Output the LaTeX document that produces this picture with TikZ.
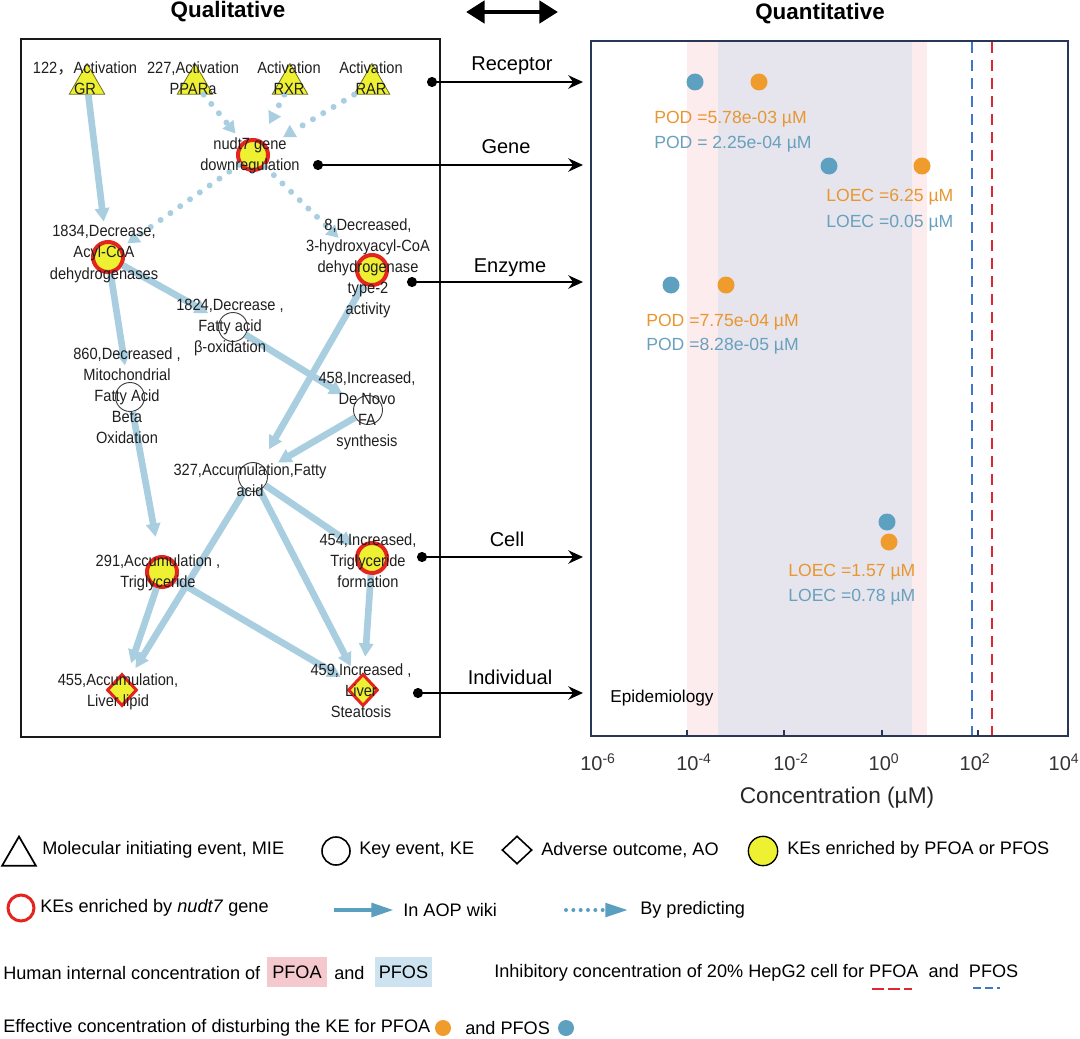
\documentclass[tikz,border=0pt]{standalone}
\usepackage{fontspec}
\setmainfont{Liberation Sans}
\newfontfamily\nodefont[FakeStretch=0.9]{Liberation Sans}
\newfontfamily\cjkfont{Noto Sans CJK SC}
\usetikzlibrary{arrows.meta,shapes.geometric}
\definecolor{aopyellow}{RGB}{238,240,50}
\definecolor{aopred}{RGB}{228,36,30}
\definecolor{edgeblue}{RGB}{168,206,224}
\definecolor{ptblue}{RGB}{94,160,192}
\definecolor{ptorange}{RGB}{239,156,45}
\definecolor{txtblue}{RGB}{104,160,190}
\definecolor{txtorange}{RGB}{232,150,48}
\definecolor{lineblue}{RGB}{60,120,200}
\definecolor{linered}{RGB}{220,40,50}
\definecolor{bandpink}{RGB}{252,236,238}
\definecolor{bandgray}{RGB}{230,229,237}
\definecolor{framenavy}{RGB}{40,55,85}
\definecolor{boxpink}{RGB}{245,200,206}
\definecolor{boxblue}{RGB}{205,227,240}
\definecolor{legblue}{RGB}{90,158,192}
\definecolor{olivebd}{RGB}{110,110,30}
\begin{document}
\begin{tikzpicture}[x=0.75pt,y=-0.75pt,
  mie/.style={regular polygon, regular polygon sides=3, minimum size=30.75pt, inner sep=0pt, fill=aopyellow, draw=olivebd, line width=0.6pt},
  kenr/.style={circle, minimum size=22.5pt, inner sep=0pt, fill=aopyellow, draw=aopred, line width=3pt},
  keplain/.style={circle, minimum size=21.75pt, inner sep=0pt, draw=black!75, line width=0.7pt},
  aonode/.style={diamond, minimum width=22.5pt, minimum height=24pt, inner sep=0pt, fill=aopyellow, draw=aopred, line width=2.25pt},
  lbl/.style={font=\nodefont\fontsize{12.2}{15.8}\selectfont, align=center, inner sep=0pt, text=black!88},
  wiki/.style={draw=edgeblue, line width=5pt, -{Triangle[length=10pt,width=10.5pt]}},
  pred/.style={draw=edgeblue, line width=4.5pt, line cap=round, dash pattern=on 0pt off 9pt, -{Triangle[length=9pt,width=10pt]}},
  conn/.style={line width=1.5pt, {Circle[length=7.5pt]}-{Stealth[length=11pt,width=10pt]}},
  lvl/.style={font=\fontsize{15}{17}\selectfont, inner sep=0pt},
  ptxt/.style={anchor=west, font=\fontsize{13.2}{15}\selectfont, inner sep=0pt},
  leg/.style={anchor=west, font=\fontsize{13.6}{16}\selectfont, inner sep=0pt},
  tick/.style={font=\fontsize{15}{17}\selectfont, inner sep=0pt, text=black!80}
]
\useasboundingbox (0,0) rectangle (1080,1038);

% ---- titles
\node[font=\bfseries\fontsize{16.8}{20}\selectfont, inner sep=0pt] (tql) at (228,12) {Qualitative};
\node[font=\bfseries\fontsize{16.8}{20}\selectfont, inner sep=0pt] (tqn) at (820,14) {Quantitative};
\coordinate (da1) at (466,12);
\coordinate (da2) at (558,12);
\draw[line width=3.5pt, {Triangle[length=14pt,width=16.5pt]}-{Triangle[length=14pt,width=16.5pt]}] (da1) -- (da2);

% ---- left frame
\draw[black!90, line width=2.2pt] (21,39) rectangle (440,737);

% ---- right plot
\fill[bandpink] (687,41) rectangle (927,736);
\fill[bandgray] (718,41) rectangle (912,736);
\draw[lineblue, line width=1.9pt, dash pattern=on 8pt off 5.5pt] (972,42) -- (972,735);
\draw[linered, line width=1.9pt, dash pattern=on 8pt off 5.5pt] (992,42) -- (992,735);
\draw[framenavy, line width=1.6pt] (591,41) rectangle (1068,736);
\foreach \x in {687,784,882,978} \draw[framenavy, line width=1pt] (\x,736) -- (\x,730);
\node[tick] (x1) at (598,762) {10\textsuperscript{-6}};
\node[tick] (x2) at (694,762) {10\textsuperscript{-4}};
\node[tick] (x3) at (791,762) {10\textsuperscript{-2}};
\node[tick] (x4) at (884,762) {10\textsuperscript{0}};
\node[tick] (x5) at (975,762) {10\textsuperscript{2}};
\node[tick] (x6) at (1064,762) {10\textsuperscript{4}};
\node[font=\fontsize{17}{19}\selectfont, inner sep=0pt, text=black!85] (xlab) at (837,798) {Concentration (µM)};

% data points
\fill[ptblue] (695,82) circle[radius=8.5];
\fill[ptorange] (759,82) circle[radius=8.5];
\fill[ptblue] (829,166) circle[radius=8.5];
\fill[ptorange] (922,166) circle[radius=8.5];
\fill[ptblue] (671,285) circle[radius=8.5];
\fill[ptorange] (726,285) circle[radius=8.5];
\fill[ptblue] (887,522) circle[radius=8.5];
\fill[ptorange] (889,542) circle[radius=8.5];

\node[ptxt, text=txtorange] (p1) at (654,119) {POD =5.78e-03 µM};
\node[ptxt, text=txtblue] (p2) at (654,144) {POD = 2.25e-04 µM};
\node[ptxt, text=txtorange] (p3) at (826,197) {LOEC =6.25 µM};
\node[ptxt, text=txtblue] (p4) at (826,223) {LOEC =0.05 µM};
\node[ptxt, text=txtorange] (p5) at (646,322) {POD =7.75e-04 µM};
\node[ptxt, text=txtblue] (p6) at (646,346) {POD =8.28e-05 µM};
\node[ptxt, text=txtorange] (p7) at (788,572) {LOEC =1.57 µM};
\node[ptxt, text=txtblue] (p8) at (788,597) {LOEC =0.78 µM};
\node[anchor=west, font=\fontsize{12.9}{15}\selectfont, inner sep=0pt] (epi) at (610,698) {Epidemiology};

% ---- left panel shapes
\node[mie] (GR) at (87,84) {};
\node[mie] (PPAR) at (195,84) {};
\node[mie] (RXR) at (290,84) {};
\node[mie] (RAR) at (372,84) {};
\node[kenr] (nudt) at (253,155) {};
\node[kenr] (k1834) at (108,257) {};
\node[kenr] (k8) at (372,270) {};
\node[keplain] (k1824) at (233,327) {};
\node[keplain] (k860) at (130,397) {};
\node[keplain] (k458) at (368,410) {};
\node[keplain] (k327) at (253,477) {};
\node[kenr] (k291) at (162,572) {};
\node[kenr] (k454) at (372,558) {};
\node[aonode] (k455) at (122,690) {};
\node[aonode] (k459) at (363,690) {};

% ---- edges in AOP wiki
\draw[wiki, shorten >=14pt] (GR) -- (k1834);
\draw[wiki, shorten >=12.75pt] (k1834) -- (k860);
\draw[wiki, shorten >=14pt] (k860) -- (k291);
\draw[wiki, shorten >=10pt] (k1834) -- (k1824);
\draw[wiki, shorten >=11pt] (k1824) -- (k458);
\draw[wiki, shorten >=12.75pt] (k8) -- (k327);
\draw[wiki, shorten >=10.5pt] (k458) -- (k327);
\draw[wiki, shorten >=4.5pt] (k327) -- (k454);
\draw[wiki, shorten >=10.5pt] (k327) -- (k459);
\draw[wiki, shorten >=10pt] (k327) -- (k455);
\draw[wiki, shorten >=11pt] (k291) -- (k455);
\draw[wiki, shorten >=10pt] (k291) -- (k459);
\draw[wiki, shorten >=12.75pt] (k454) -- (k459);

% ---- predicted edges
\draw[pred, shorten >=8pt] (PPAR) -- (nudt);
\draw[pred, shorten >=13.5pt] (RXR) -- (nudt);
\draw[pred, shorten >=13.5pt] (RAR) -- (nudt);
\draw[pred, shorten >=5pt] (nudt) -- (k1834);
\draw[pred, shorten >=22pt] (nudt) -- (k8);

% ---- labels
\node[lbl] (lGR) at (85,78) {122{\cjkfont ，}Activation\\GR};
\node[lbl] (lPPAR) at (193,78) {227,Activation\\PPARa};
\node[lbl] (lRXR) at (289,78) {Activation\\RXR};
\node[lbl] (lRAR) at (371,78) {Activation\\RAR};
\node[lbl] (lnudt) at (250,155.5) {nudt7 gene\\downregulation};
\node[lbl] (l1834) at (104,254) {1834,Decrease,\\Acyl-CoA\\dehydrogenases};
\node[lbl] (l8) at (368,268) {8,Decreased,\\3-hydroxyacyl-CoA\\dehydrogenase\\type-2\\activity};
\node[lbl] (l1824) at (230,327.5) {1824,Decrease ,\\Fatty acid\\β-oxidation};
\node[lbl] (l860) at (127,396) {860,Decreased ,\\Mitochondrial\\Fatty Acid\\Beta\\Oxidation};
\node[lbl] (l458) at (367,411) {458,Increased,\\De Novo\\FA\\synthesis};
\node[lbl] (l327) at (250,480.5) {327,Accumulation,Fatty\\acid};
\node[lbl] (l291) at (158,573) {291,Accumulation ,\\Triglyceride};
\node[lbl] (l454) at (368,561) {454,Increased,\\Triglyceride\\formation};
\node[lbl] (l455) at (118,692) {455,Accumulation,\\Liver lipid};
\node[lbl] (l459) at (361,691) {459,Increased ,\\Liver\\Steatosis};

% ---- level connectors
\coordinate (cR1) at (427,82);  \coordinate (cR2) at (583,82);
\coordinate (cG1) at (313,165); \coordinate (cG2) at (583,165);
\coordinate (cE1) at (407,282); \coordinate (cE2) at (583,282);
\coordinate (cC1) at (417,557); \coordinate (cC2) at (583,557);
\coordinate (cI1) at (413,693); \coordinate (cI2) at (583,693);
\draw[conn] (cR1) -- (cR2);
\draw[conn] (cG1) -- (cG2);
\draw[conn] (cE1) -- (cE2);
\draw[conn] (cC1) -- (cC2);
\draw[conn] (cI1) -- (cI2);
\node[lvl] (vR) at (512,66) {Receptor};
\node[lvl] (vG) at (506,147) {Gene};
\node[lvl] (vE) at (510,268) {Enzyme};
\node[lvl] (vC) at (507,539) {Cell};
\node[lvl] (vI) at (510,677) {Individual};

% ---- legend
\node[regular polygon, regular polygon sides=3, minimum size=29.25pt, inner sep=0pt, draw=black, line width=1.3pt] (gMIE) at (19,856) {};
\node[leg] (tMIE) at (42,850) {Molecular initiating event, MIE};
\node[circle, minimum size=21pt, inner sep=0pt, draw=black, line width=1.2pt] (gKE) at (336,851) {};
\node[leg] (tKE) at (359,850) {Key event, KE};
\node[diamond, minimum width=22.5pt, minimum height=21pt, inner sep=0pt, draw=black, line width=1.2pt] (gAO) at (517,850) {};
\node[leg] (tAO) at (541,850) {Adverse outcome, AO};
\node[circle, minimum size=22pt, inner sep=0pt, fill=aopyellow, draw=black, line width=1pt] (gY) at (763,851) {};
\node[leg] (tY) at (787,850) {KEs enriched by PFOA or PFOS};
\node[circle, minimum size=19.5pt, inner sep=0pt, draw=aopred, line width=2.25pt] (gR) at (21,908) {};
\node[leg] (tR) at (40,908) {KEs enriched by \textit{nudt7} gene};
\coordinate (la1) at (334,910); \coordinate (la2) at (394,910);
\draw[draw=legblue, line width=3.5pt, -{Triangle[length=17pt,width=10pt]}] (la1) -- (la2);
\node[leg] (tA) at (403,910) {In AOP wiki};
\coordinate (lb1) at (566,910); \coordinate (lb2) at (628,910);
\draw[draw=legblue, line width=3pt, line cap=round, dash pattern=on 0pt off 5.5pt, -{Triangle[length=17pt,width=10pt]}] (lb1) -- (lb2);
\node[leg] (tB) at (640,910) {By predicting};
\node[leg] (tH) at (3,973) {Human internal concentration of};
\node[fill=boxpink, minimum width=45pt, minimum height=22.5pt, inner sep=0pt, font=\fontsize{13.6}{16}\selectfont] (bPFOA) at (297,972) {PFOA};
\node[leg] (tand) at (334,973) {and};
\node[fill=boxblue, minimum width=43pt, minimum height=22.5pt, inner sep=0pt, font=\fontsize{13.6}{16}\selectfont] (bPFOS) at (403.5,972) {PFOS};
\node[leg] (tI) at (494,973) {Inhibitory concentration of 20\% HepG2 cell for PFOA\ \ and\ \ PFOS};
\draw[linered, line width=1.8pt, dash pattern=on 9pt off 3pt] (872,989) -- (912,989);
\draw[lineblue, line width=1.8pt, dash pattern=on 6pt off 3pt] (973,988) -- (1000,988);
\node[leg] (tEf) at (3,1028) {Effective concentration of disturbing the KE for PFOA};
\fill[ptorange] (443,1028) circle[radius=8];
\node[leg] (tEand) at (465,1028) {and PFOS};
\fill[ptblue] (566,1028) circle[radius=8];
\end{tikzpicture}
\end{document}
